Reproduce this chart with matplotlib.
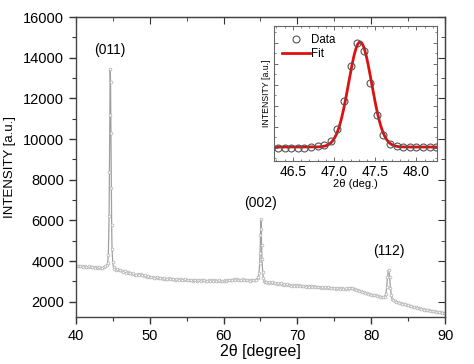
import matplotlib.pyplot as plt
import numpy as np
from matplotlib.ticker import MultipleLocator

plt.rcParams["font.family"] = ["Liberation Sans", "DejaVu Sans"]

# main XRD pattern, baseline pieces sampled every 0.2 deg
base_a_start = 40.0
base_a = [3780, 3760, 3740, 3770, 3750, 3720, 3760, 3730, 3700, 3740, 3710,
          3690, 3720, 3680, 3700, 3670, 3690, 3660, 3680, 3700, 3740, 3800]
peak_011_x = [44.3, 44.4, 44.5, 44.55, 44.6, 44.65, 44.7, 44.75, 44.8, 44.85, 44.9, 45.0, 45.1]
peak_011_y = [3900, 4300, 6200, 8400, 11200, 13450, 12800, 10300, 7600, 5800, 4600, 3950, 3700]
base_b_start = 45.2
base_b = [3620, 3580, 3600, 3540, 3560, 3500, 3470, 3520, 3440, 3460,
          3400, 3430, 3360, 3410, 3340, 3320, 3380, 3300, 3360, 3310,
          3260, 3300, 3240, 3260, 3220,
          3200, 3240, 3180, 3170, 3220, 3160, 3150, 3190, 3140, 3150,
          3130, 3120, 3160, 3110, 3100, 3140, 3090, 3110, 3130, 3080,
          3100, 3090, 3060, 3110, 3080, 3050, 3090, 3070, 3040, 3080,
          3060, 3030, 3070, 3050, 3020, 3060, 3080, 3040, 3030, 3060,
          3030, 3050, 3010, 3060, 3040, 3000, 3050, 3030, 3000, 3040,
          3060, 3020, 3070, 3050, 3090, 3060, 3100, 3070, 3100, 3080,
          3090, 3060, 3100, 3080, 3050, 3090, 3070, 3040, 3080, 3060,
          3070, 3090, 3150]
peak_002_x = [64.7, 64.8, 64.9, 64.95, 65.0, 65.05, 65.1, 65.15, 65.2, 65.3, 65.4, 65.5]
peak_002_y = [3200, 3400, 3900, 4400, 5300, 6050, 5600, 4800, 4100, 3450, 3150, 3000]
base_c_start = 65.6
base_c = [2960, 2990, 2940, 2980, 2930, 2960, 2900, 2940, 2890, 2910,
          2870, 2900, 2850, 2880, 2830, 2860, 2820, 2850, 2800, 2830,
          2790, 2820, 2780, 2810, 2770, 2800, 2760, 2790, 2750, 2780,
          2740, 2770, 2730, 2760, 2720, 2750, 2710, 2740, 2700, 2730,
          2690, 2720, 2680, 2710, 2670, 2700, 2660, 2690, 2650, 2680,
          2660, 2640, 2680, 2650, 2630, 2660, 2640, 2670, 2690, 2700,
          2650, 2620, 2580, 2570, 2540, 2520, 2490, 2470, 2440, 2420,
          2390, 2380, 2350, 2340, 2310, 2310, 2280, 2280, 2250, 2250,
          2230, 2260, 2400]
peak_112_x = [82.1, 82.2, 82.3, 82.4, 82.5, 82.6, 82.7, 82.8]
peak_112_y = [2750, 3200, 3520, 3560, 3200, 2700, 2350, 2150]
base_d_start = 83.0
base_d = [2080, 2030, 2010, 1980, 1960, 1920, 1910, 1870, 1870, 1830,
          1820, 1790, 1790, 1750, 1750, 1720, 1710, 1690, 1680, 1650,
          1650, 1620, 1620, 1590, 1590, 1570, 1560, 1540, 1540, 1510,
          1510, 1490, 1490, 1470, 1470, 1450]

peak_labels = ["(011)", "(002)", "(112)"]
peak_label_pos = [(44.65, 14050), (65.05, 6500), (82.35, 4150)]

# inset: (011) peak with fit, normalised intensity
inset_x = [46.32, 46.40, 46.48, 46.56, 46.64, 46.72, 46.80, 46.88, 46.96, 47.04,
           47.12, 47.20, 47.28, 47.36, 47.44, 47.52, 47.60, 47.68, 47.76, 47.84,
           47.92, 48.00, 48.08, 48.16, 48.24]
inset_y = [0.0, 0.0, 0.0, 0.0, 0.0, 0.006, 0.016, 0.025, 0.063, 0.183,
           0.442, 0.779, 1.0, 0.924, 0.621, 0.309, 0.120, 0.038, 0.016, 0.01,
           0.01, 0.008, 0.008, 0.008, 0.008]
fit_center = 47.316
fit_fwhm = 0.33
fit_amp = 1.0


def segment(start, vals):
    n = len(vals)
    return np.round(start + 0.2 * np.arange(n), 2), np.array(vals, float)


xs, ys = [], []
for start, vals in [(base_a_start, base_a), (base_b_start, base_b),
                    (base_c_start, base_c), (base_d_start, base_d)]:
    sx, sy = segment(start, vals)
    xs.append(sx)
    ys.append(sy)
xs += [np.array(peak_011_x), np.array(peak_002_x), np.array(peak_112_x)]
ys += [np.array(peak_011_y), np.array(peak_002_y), np.array(peak_112_y)]
x = np.concatenate(xs)
y = np.concatenate(ys)
order = np.argsort(x)
x, y = x[order], y[order]

fig = plt.figure(figsize=(4.74, 3.64), dpi=100)
ax = fig.add_axes([0.160, 0.129, 0.779, 0.824])
ax.plot(x, y, color="#a0a0a0", lw=0.9, marker="o", ms=2.0, mfc="white",
        mec="#b0b0b0", mew=0.5)
ax.set_xlim(40, 90)
ax.set_ylim(1250, 16000)
ax.xaxis.set_major_locator(MultipleLocator(10))
ax.xaxis.set_minor_locator(MultipleLocator(5))
ax.yaxis.set_major_locator(MultipleLocator(2000))
ax.yaxis.set_minor_locator(MultipleLocator(1000))
ax.tick_params(which="both", direction="out", labelsize=10.5, colors="#333333",
               labelcolor="black")
ax.tick_params(which="major", length=5, width=1)
ax.tick_params(which="minor", length=3, width=0.8)
for s in ax.spines.values():
    s.set_color("#444444")
    s.set_linewidth(1.0)
sec_x = ax.secondary_xaxis("top")
sec_y = ax.secondary_yaxis("right")
for sec in (sec_x, sec_y):
    sec.tick_params(which="both", direction="in", colors="#333333")
    sec.tick_params(which="major", length=5)
    sec.tick_params(which="minor", length=3)
sec_x.xaxis.set_major_locator(MultipleLocator(10))
sec_x.xaxis.set_minor_locator(MultipleLocator(5))
sec_y.yaxis.set_major_locator(MultipleLocator(2000))
sec_y.yaxis.set_minor_locator(MultipleLocator(1000))
sec_x.set_xticklabels([])
sec_y.set_yticklabels([])
ax.set_xlabel("2θ [degree]", fontsize=11.5, labelpad=1)
ax.set_ylabel("INTENSITY [a.u.]", fontsize=9.5, labelpad=5)

for lab, (px, py) in zip(peak_labels, peak_label_pos):
    ax.text(px, py, lab, fontsize=10, ha="center", va="bottom")

# inset
ins = fig.add_axes([0.578, 0.558, 0.344, 0.371])
xf = np.linspace(46.27, 48.25, 400)
sig = fit_fwhm / 2.3548
yf = fit_amp * np.exp(-0.5 * ((xf - fit_center) / sig) ** 2) + 0.008
ins.plot(inset_x, inset_y, "o", ms=5, mfc="none", mec="#555555", mew=0.8,
         label="Data", zorder=3)
ins.plot(xf, yf, color="#e01010", lw=2, label="Fit", zorder=2)
ins.set_xlim(46.27, 48.25)
ins.set_ylim(-0.124, 1.162)
ins.xaxis.set_major_locator(MultipleLocator(0.5))
ins.xaxis.set_minor_locator(MultipleLocator(0.1))
ins.yaxis.set_major_locator(MultipleLocator(0.2))
ins.yaxis.set_minor_locator(MultipleLocator(0.1))
ins.tick_params(which="both", direction="in", top=True, right=True,
                labelleft=False, labelsize=10, pad=3, colors="#555555",
                labelcolor="black")
ins.tick_params(which="major", length=3, width=0.6)
ins.tick_params(which="minor", length=1.5, width=0.5)
for s in ins.spines.values():
    s.set_color("#666666")
    s.set_linewidth(0.8)
ins.set_xlabel("2θ (deg.)", fontsize=8, labelpad=0)
ins.set_ylabel("INTENSITY [a.u.]", fontsize=6.3, labelpad=2)
ins.legend(loc="upper left", frameon=False, fontsize=8.3, handlelength=2.4,
           handletextpad=0.1, borderaxespad=0.3, labelspacing=0.15)

fig.savefig("out.png", dpi=100)
